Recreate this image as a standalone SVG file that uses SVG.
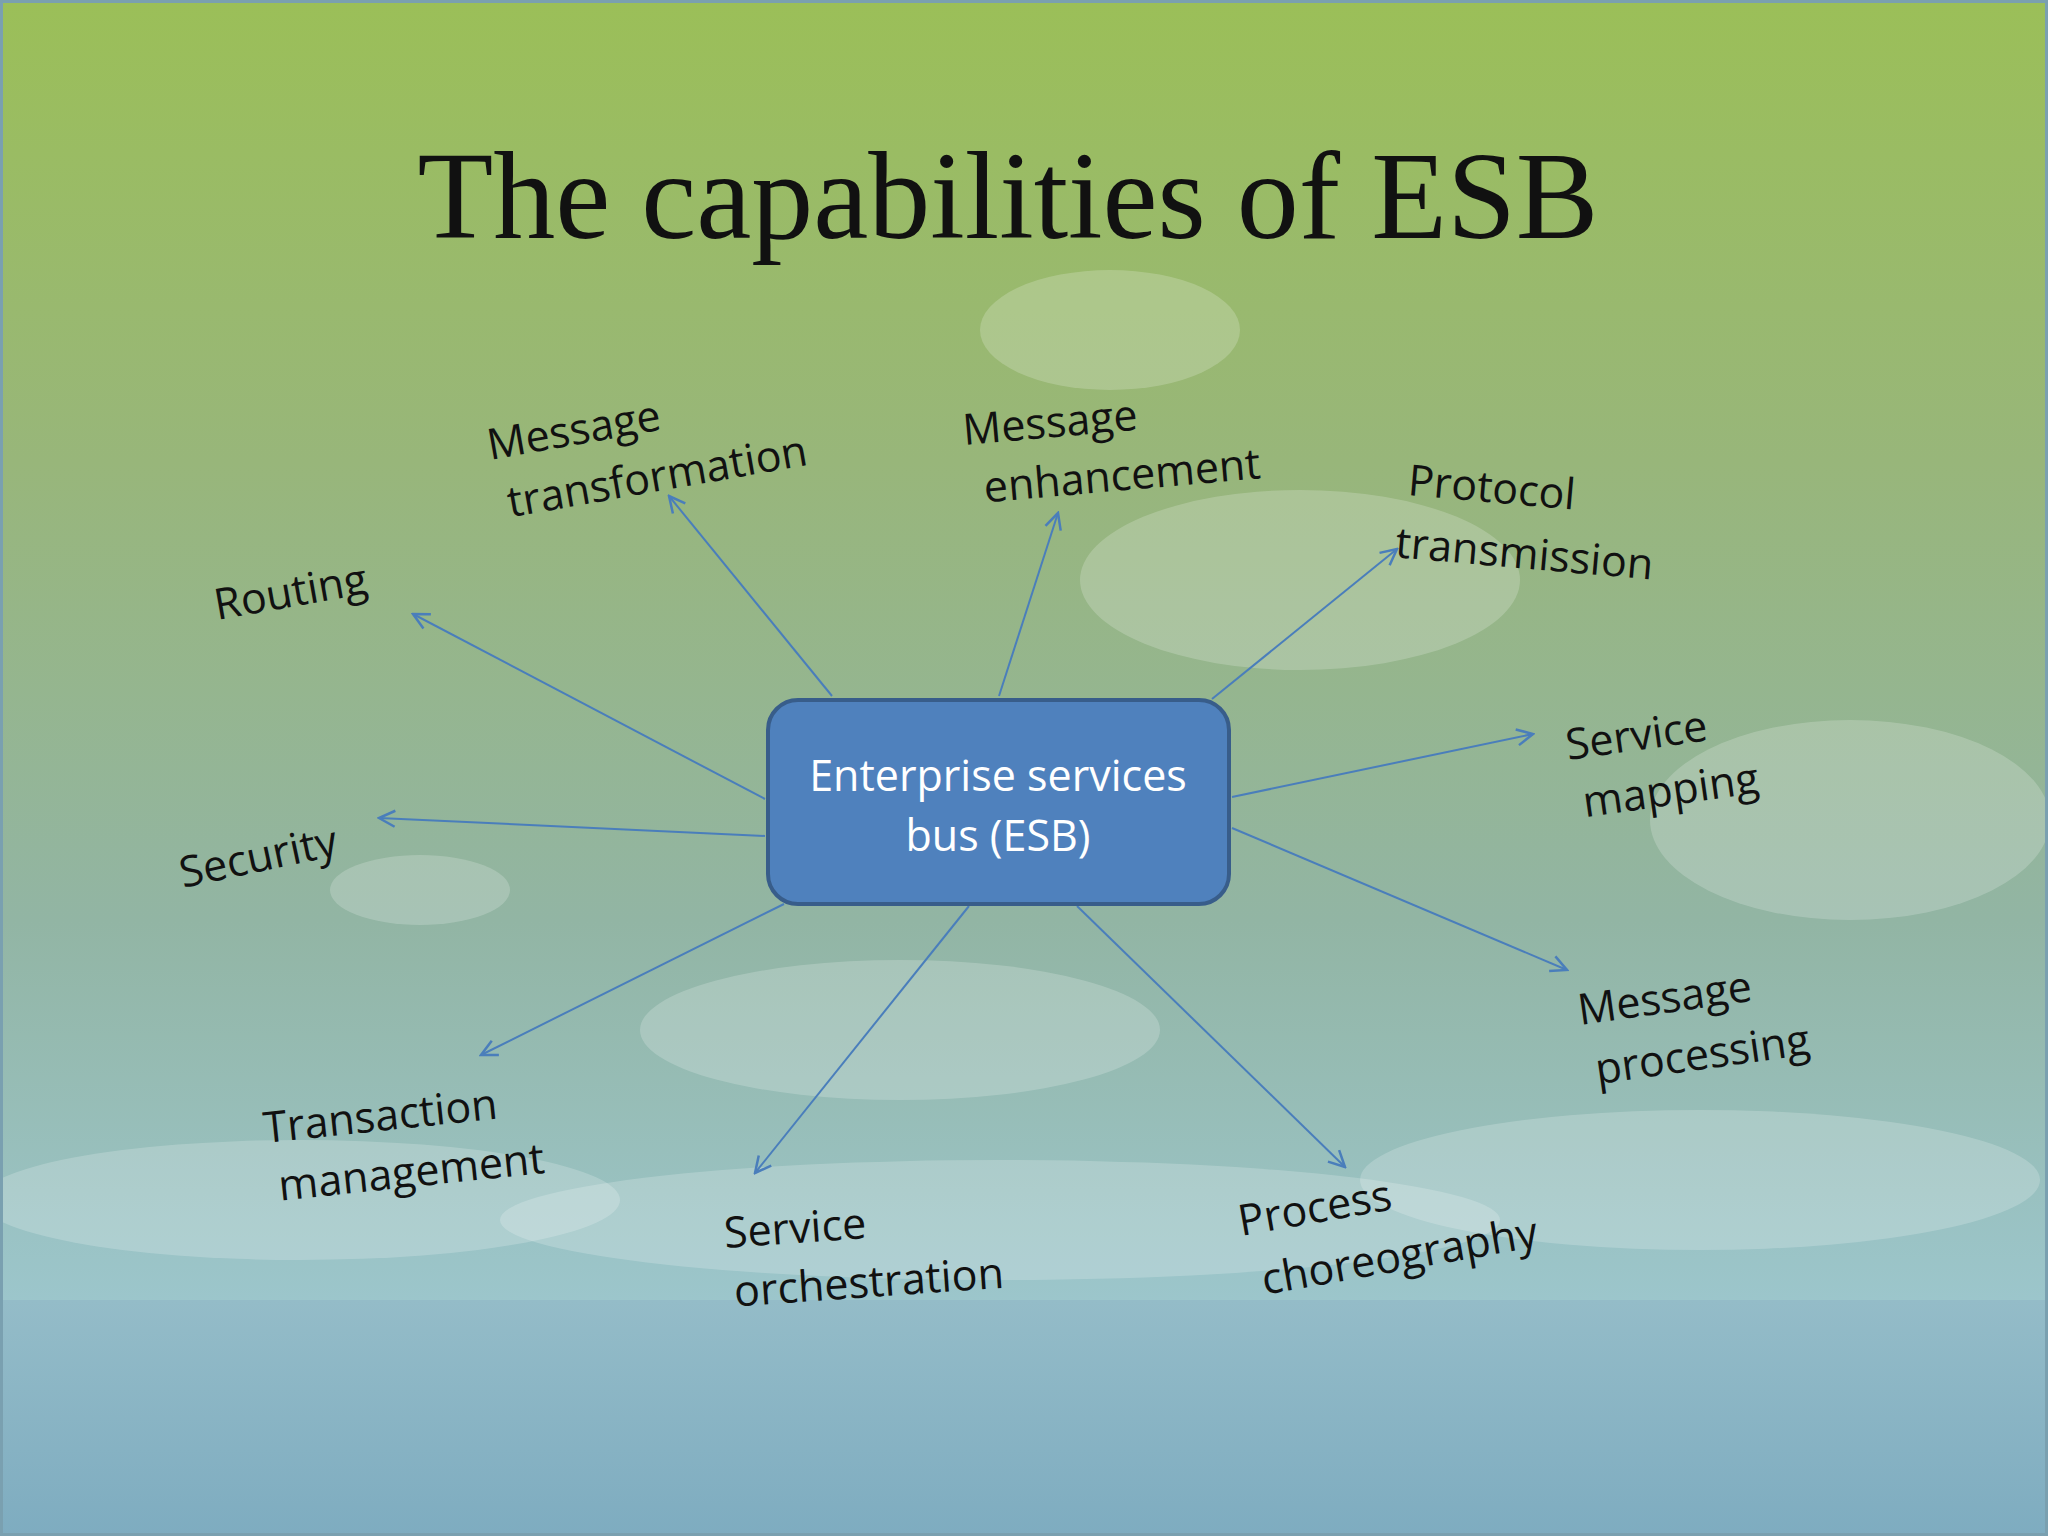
<svg xmlns="http://www.w3.org/2000/svg" width="2048" height="1536" viewBox="0 0 2048 1536">
<defs>
<linearGradient id="sky" x1="0" y1="0" x2="0" y2="1">
<stop offset="0" stop-color="#9bbf58"/>
<stop offset="0.3" stop-color="#98b67a"/>
<stop offset="0.6" stop-color="#92b5a4"/>
<stop offset="0.85" stop-color="#9cc6cc"/>
</linearGradient>
<linearGradient id="sea" x1="0" y1="0" x2="0" y2="1">
<stop offset="0" stop-color="#94bcc8"/>
<stop offset="1" stop-color="#7eacc0"/>
</linearGradient>
<marker id="ah" viewBox="0 0 20 20" refX="18" refY="10" markerWidth="20" markerHeight="20" markerUnits="userSpaceOnUse" orient="auto">
<path d="M2,2 L18,10 L2,18" fill="none" stroke="#4a7ebb" stroke-width="2.5"/>
</marker>
<style>
.lbl{font-family:"Open Sans","Noto Sans",sans-serif;font-size:43px;fill:#111}
.con{stroke:#4a7ebb;stroke-width:2;fill:none;marker-end:url(#ah)}
.cl{fill:#ffffff;opacity:0.2}
</style>
</defs>
<rect width="2048" height="1536" fill="url(#sky)"/>
<g>
<ellipse class="cl" cx="1110" cy="330" rx="130" ry="60"/>
<ellipse class="cl" cx="1300" cy="580" rx="220" ry="90"/>
<ellipse class="cl" cx="1850" cy="820" rx="200" ry="100"/>
<ellipse class="cl" cx="900" cy="1030" rx="260" ry="70"/>
<ellipse class="cl" cx="420" cy="890" rx="90" ry="35"/>
<ellipse class="cl" cx="1000" cy="1220" rx="500" ry="60"/>
<ellipse class="cl" cx="300" cy="1200" rx="320" ry="60"/>
<ellipse class="cl" cx="1700" cy="1180" rx="340" ry="70"/>
</g>
<rect y="1300" width="2048" height="236" fill="url(#sea)"/>
<rect x="1.5" y="1.5" width="2045" height="1533" fill="none" stroke="#7aa0b0" stroke-width="3"/>
<text x="1008" y="238" text-anchor="middle" font-family="Liberation Serif, serif" font-size="124" fill="#111">The capabilities of ESB</text>
<g id="connectors">
<line class="con" x1="832" y1="696" x2="669" y2="496"/>
<line class="con" x1="999" y1="696" x2="1058" y2="513"/>
<line class="con" x1="1212" y1="699" x2="1397" y2="549"/>
<line class="con" x1="1232" y1="797" x2="1533" y2="734"/>
<line class="con" x1="1232" y1="828" x2="1567" y2="970"/>
<line class="con" x1="1077" y1="906" x2="1345" y2="1167"/>
<line class="con" x1="969" y1="906" x2="755" y2="1173"/>
<line class="con" x1="784" y1="904" x2="481" y2="1055"/>
<line class="con" x1="765" y1="836" x2="379" y2="818"/>
<line class="con" x1="765" y1="799" x2="413" y2="614"/>
</g>
<g id="esb">
<rect x="768" y="700" width="461" height="204" rx="30" fill="#4f81bd" stroke="#385d8a" stroke-width="4"/>
<text x="998" y="791" text-anchor="middle" font-family="Open Sans, Noto Sans, sans-serif" font-size="43" fill="#fff">Enterprise services</text>
<text x="998" y="851" text-anchor="middle" font-family="Open Sans, Noto Sans, sans-serif" font-size="43" fill="#fff">bus (ESB)</text>
</g>
<g id="transformation" transform="translate(490,460) rotate(-10)"><text class="lbl" x="0" y="0">Message</text><text class="lbl" x="10" y="60">transformation</text></g>
<g id="enhancement" transform="translate(964,445) rotate(-5)"><text class="lbl" x="0" y="0">Message</text><text class="lbl" x="16" y="59">enhancement</text></g>
<g id="protocol" transform="translate(1407,495) rotate(5)"><text class="lbl" x="0" y="0">Protocol</text><text class="lbl" x="-7" y="63">transmission</text></g>
<g id="routing" transform="translate(217,620) rotate(-10)"><text class="lbl" x="0" y="0">Routing</text></g>
<g id="mapping" transform="translate(1568,760) rotate(-8)"><text class="lbl" x="0" y="0">Service</text><text class="lbl" x="9" y="59">mapping</text></g>
<g id="security" transform="translate(183,888) rotate(-12)"><text class="lbl" x="0" y="0">Security</text></g>
<g id="processing" transform="translate(1580,1025) rotate(-8)"><text class="lbl" x="0" y="0">Message</text><text class="lbl" x="9" y="61">processing</text></g>
<g id="transaction" transform="translate(265,1143) rotate(-6)"><text class="lbl" x="0" y="0">Transaction</text><text class="lbl" x="9" y="59">management</text></g>
<g id="orchestration" transform="translate(725,1248) rotate(-4)"><text class="lbl" x="0" y="0">Service</text><text class="lbl" x="6" y="59">orchestration</text></g>
<g id="choreography" transform="translate(1241,1236) rotate(-10)"><text class="lbl" x="0" y="0">Process</text><text class="lbl" x="13" y="62">choreography</text></g>
</svg>
